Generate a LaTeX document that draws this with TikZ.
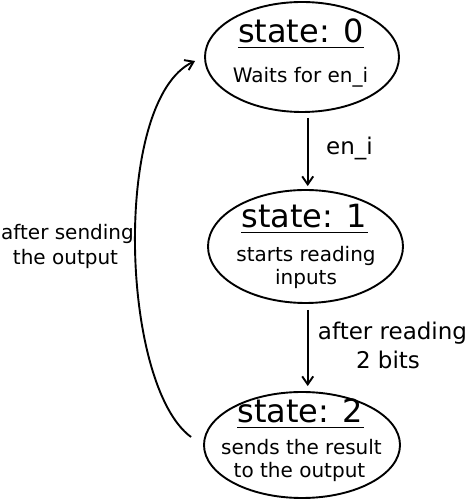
\documentclass[tikz,border=0pt]{standalone}
\usepackage{fontspec}
\setmainfont{DejaVu Sans}
\usetikzlibrary{shapes.geometric,arrows.meta}
\tikzset{
  st/.style={ellipse, draw, line width=1.9pt, inner sep=0pt},
  ttl/.style={font=\fontsize{32}{32}\selectfont, inner sep=0pt, anchor=base},
  body/.style={font=\fontsize{20}{24}\selectfont, inner sep=0pt, anchor=base},
  lbl/.style={font=\fontsize{23}{29}\selectfont, inner sep=0pt, anchor=base},
  side/.style={font=\fontsize{20}{25}\selectfont, inner sep=0pt, anchor=base},
  arr/.style={line width=1.9pt, -{Straight Barb[length=8pt,width=11pt]}},
  uline/.style={line width=1.8pt}
}
\begin{document}
\begin{tikzpicture}[x=1pt,y=1pt]
\path[use as bounding box] (0,0) rectangle (469,500);
% states
\node[st, minimum width=194pt, minimum height=110pt] (s0) at (302,443) {};
\node[st, minimum width=195pt, minimum height=113pt] (s1) at (305.5,253.5) {};
\node[st, minimum width=196pt, minimum height=106pt] (s2) at (302,55) {};
% texts state 0
\node[ttl] (t0) at (301,457) {state: 0};
\draw[uline] ([yshift=-4.5pt]t0.base west) -- ([yshift=-4.5pt]t0.base east);
\node[body] (b0) at (300.5,417) {Waits for en\_i};
% texts state 1
\node[ttl] (t1) at (304.5,272) {state: 1};
\draw[uline] ([yshift=-4.5pt]t1.base west) -- ([yshift=-4.5pt]t1.base east);
\node[body] (b1a) at (306,238) {starts reading};
\node[body] (b1b) at (306,215) {inputs};
% texts state 2
\node[ttl] (t2) at (300.5,77) {state: 2};
\draw[uline] ([yshift=-4.5pt]t2.base west) -- ([yshift=-4.5pt]t2.base east);
\node[body] (b2a) at (301.5,45) {sends the result};
\node[body] (b2b) at (299.5,22) {to the output};
% arrows
\draw[arr] ([xshift=5.7pt,yshift=-5pt]s0.south) -- ([xshift=2.2pt,yshift=3pt]s1.north);
\draw[arr] ([xshift=2.2pt,yshift=-6pt]s1.south) -- ([xshift=5.7pt,yshift=5pt]s2.north);
\draw[arr] ([xshift=-12pt,yshift=8pt]s2.west) .. controls (120,115) and (112,400) .. ([xshift=-9pt,yshift=-4pt]s0.west);
% labels
\node[lbl] (l1) at (349.5,345) {en\_i};
\node[lbl] (l2a) at (392.5,160) {after reading};
\node[lbl] (l2b) at (388,131) {2 bits};
\node[side] (l3a) at (67.5,260) {after sending};
\node[side] (l3b) at (65.5,235) {the output};
\end{tikzpicture}
\end{document}
